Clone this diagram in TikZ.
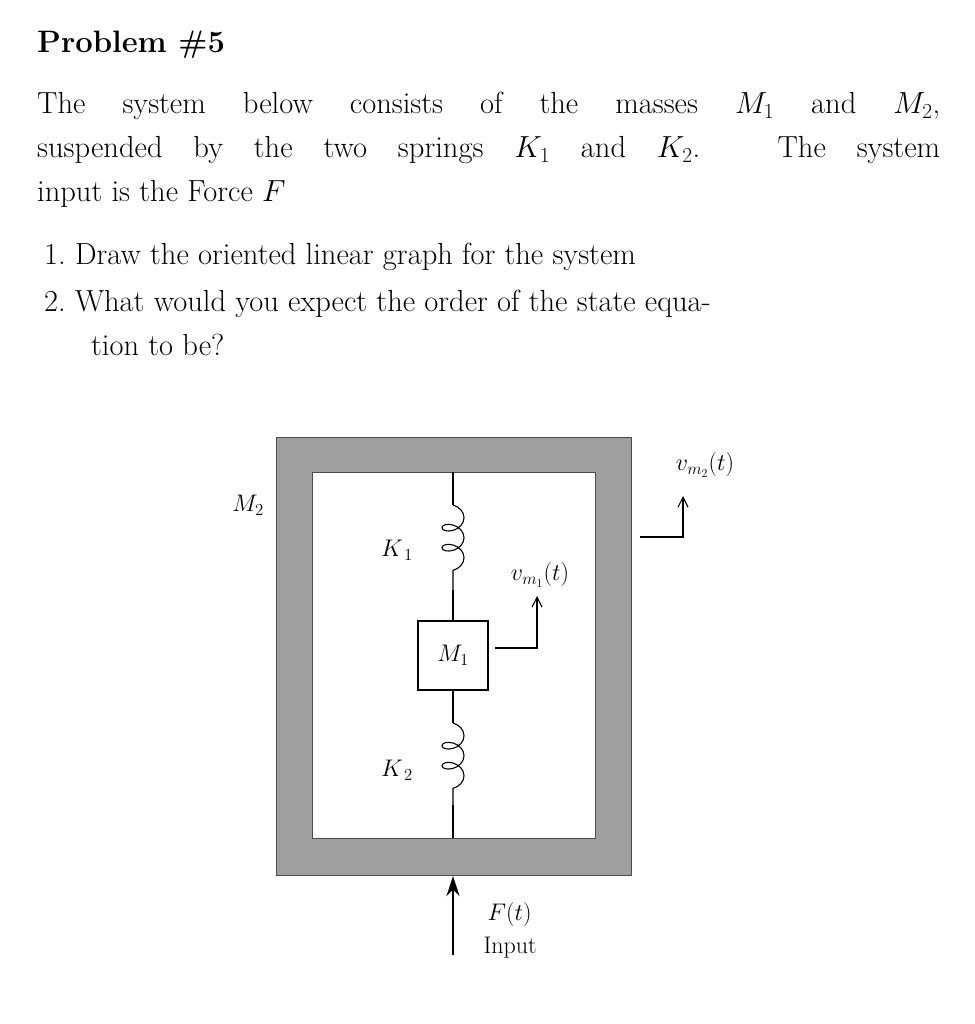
\RequirePackage{fix-cm}
\documentclass[tikz,border=0pt]{standalone}
\usetikzlibrary{decorations.pathmorphing,arrows.meta}
\begin{document}
\begin{tikzpicture}[x=1pt,y=-1pt,
  lbl/.style={font=\fontsize{24}{28}\selectfont},
  sprg/.style={decorate,decoration={coil,amplitude=11pt,segment length=20pt,aspect=0.7,pre length=0pt,post length=0pt},line width=1.1pt},
  vel/.style={line width=1.1pt,-{Straight Barb[length=10pt,width=10pt]}}]
\useasboundingbox (0,0) rectangle (974,1024);
\node[anchor=base west,inner sep=0,font=\fontsize{31}{36}\selectfont\bfseries] (title) at (37,53) {Problem \#5};
\node[anchor=north west,inner sep=0,font=\fontsize{30.5}{44}\selectfont] (body) at (37,92) {\parbox{903pt}{The system below consists of the masses $M_1$ and $M_2$,\linebreak suspended by the two springs $K_1$ and $K_2$. The system\linebreak input is the Force $F$}};
\node[anchor=north west,inner sep=0,font=\fontsize{30.5}{44}\selectfont] (i1) at (44,243) {1.\ Draw the oriented linear graph for the system};
\node[anchor=north west,inner sep=0,font=\fontsize{30.5}{44}\selectfont] (i2) at (44,290) {\parbox{900pt}{2.\ What would you expect the order of the state equa-\\\hspace*{47pt}tion to be?}};
% frame
\fill[gray!75,draw=black!70,line width=1pt] (276,437) rectangle (631,875);
\fill[white,draw=black!70,line width=1pt] (312,472) rectangle (595,838);
\node[draw,line width=1.1pt,minimum width=70pt,minimum height=69pt,inner sep=0,lbl] (m1) at (453,655.5) {$M_1$};
\coordinate (t1) at (453,472);
\coordinate (a1) at (453,505);
\coordinate (b1) at (453,590);
\coordinate (a2) at (453,723);
\coordinate (b2) at (453,805);
\coordinate (t2) at (453,838);
\draw[line width=1.1pt] (t1) -- (a1);
\draw[sprg] (a1) -- (b1);
\draw[line width=1.1pt] (b1) -- (m1.north);
\draw[line width=1.1pt] (m1.south) -- (a2);
\draw[sprg] (a2) -- (b2);
\draw[line width=1.1pt] (b2) -- (t2);
\node[lbl] (k1) at (397,550) {$K_{\,\scriptstyle 1}$};
\node[lbl] (k2) at (397,770) {$K_{\,\scriptstyle 2}$};
\node[lbl] (m2) at (248,505) {$M_2$};
\coordinate (v1s) at (495,648);
\coordinate (v1c) at (537,648);
\coordinate (v1e) at (537,596);
\draw[vel] (v1s) -- (v1c) -- (v1e);
\node[lbl] (v1) at (540,575) {$v_{m_1}(t)$};
\coordinate (v2s) at (640,537);
\coordinate (v2c) at (683,537);
\coordinate (v2e) at (683,496);
\draw[vel] (v2s) -- (v2c) -- (v2e);
\node[lbl] (v2) at (705,465) {$v_{m_2}(t)$};
\coordinate (fs) at (453,955);
\coordinate (fe) at (453,876);
\draw[line width=1.8pt,-{Stealth[length=20pt,width=13pt]}] (fs) -- (fe);
\node[lbl,anchor=west] (ft) at (484,914) {$F(t)$};
\node[lbl,anchor=west] (inp) at (480,948) {Input};
\end{tikzpicture}
\end{document}
